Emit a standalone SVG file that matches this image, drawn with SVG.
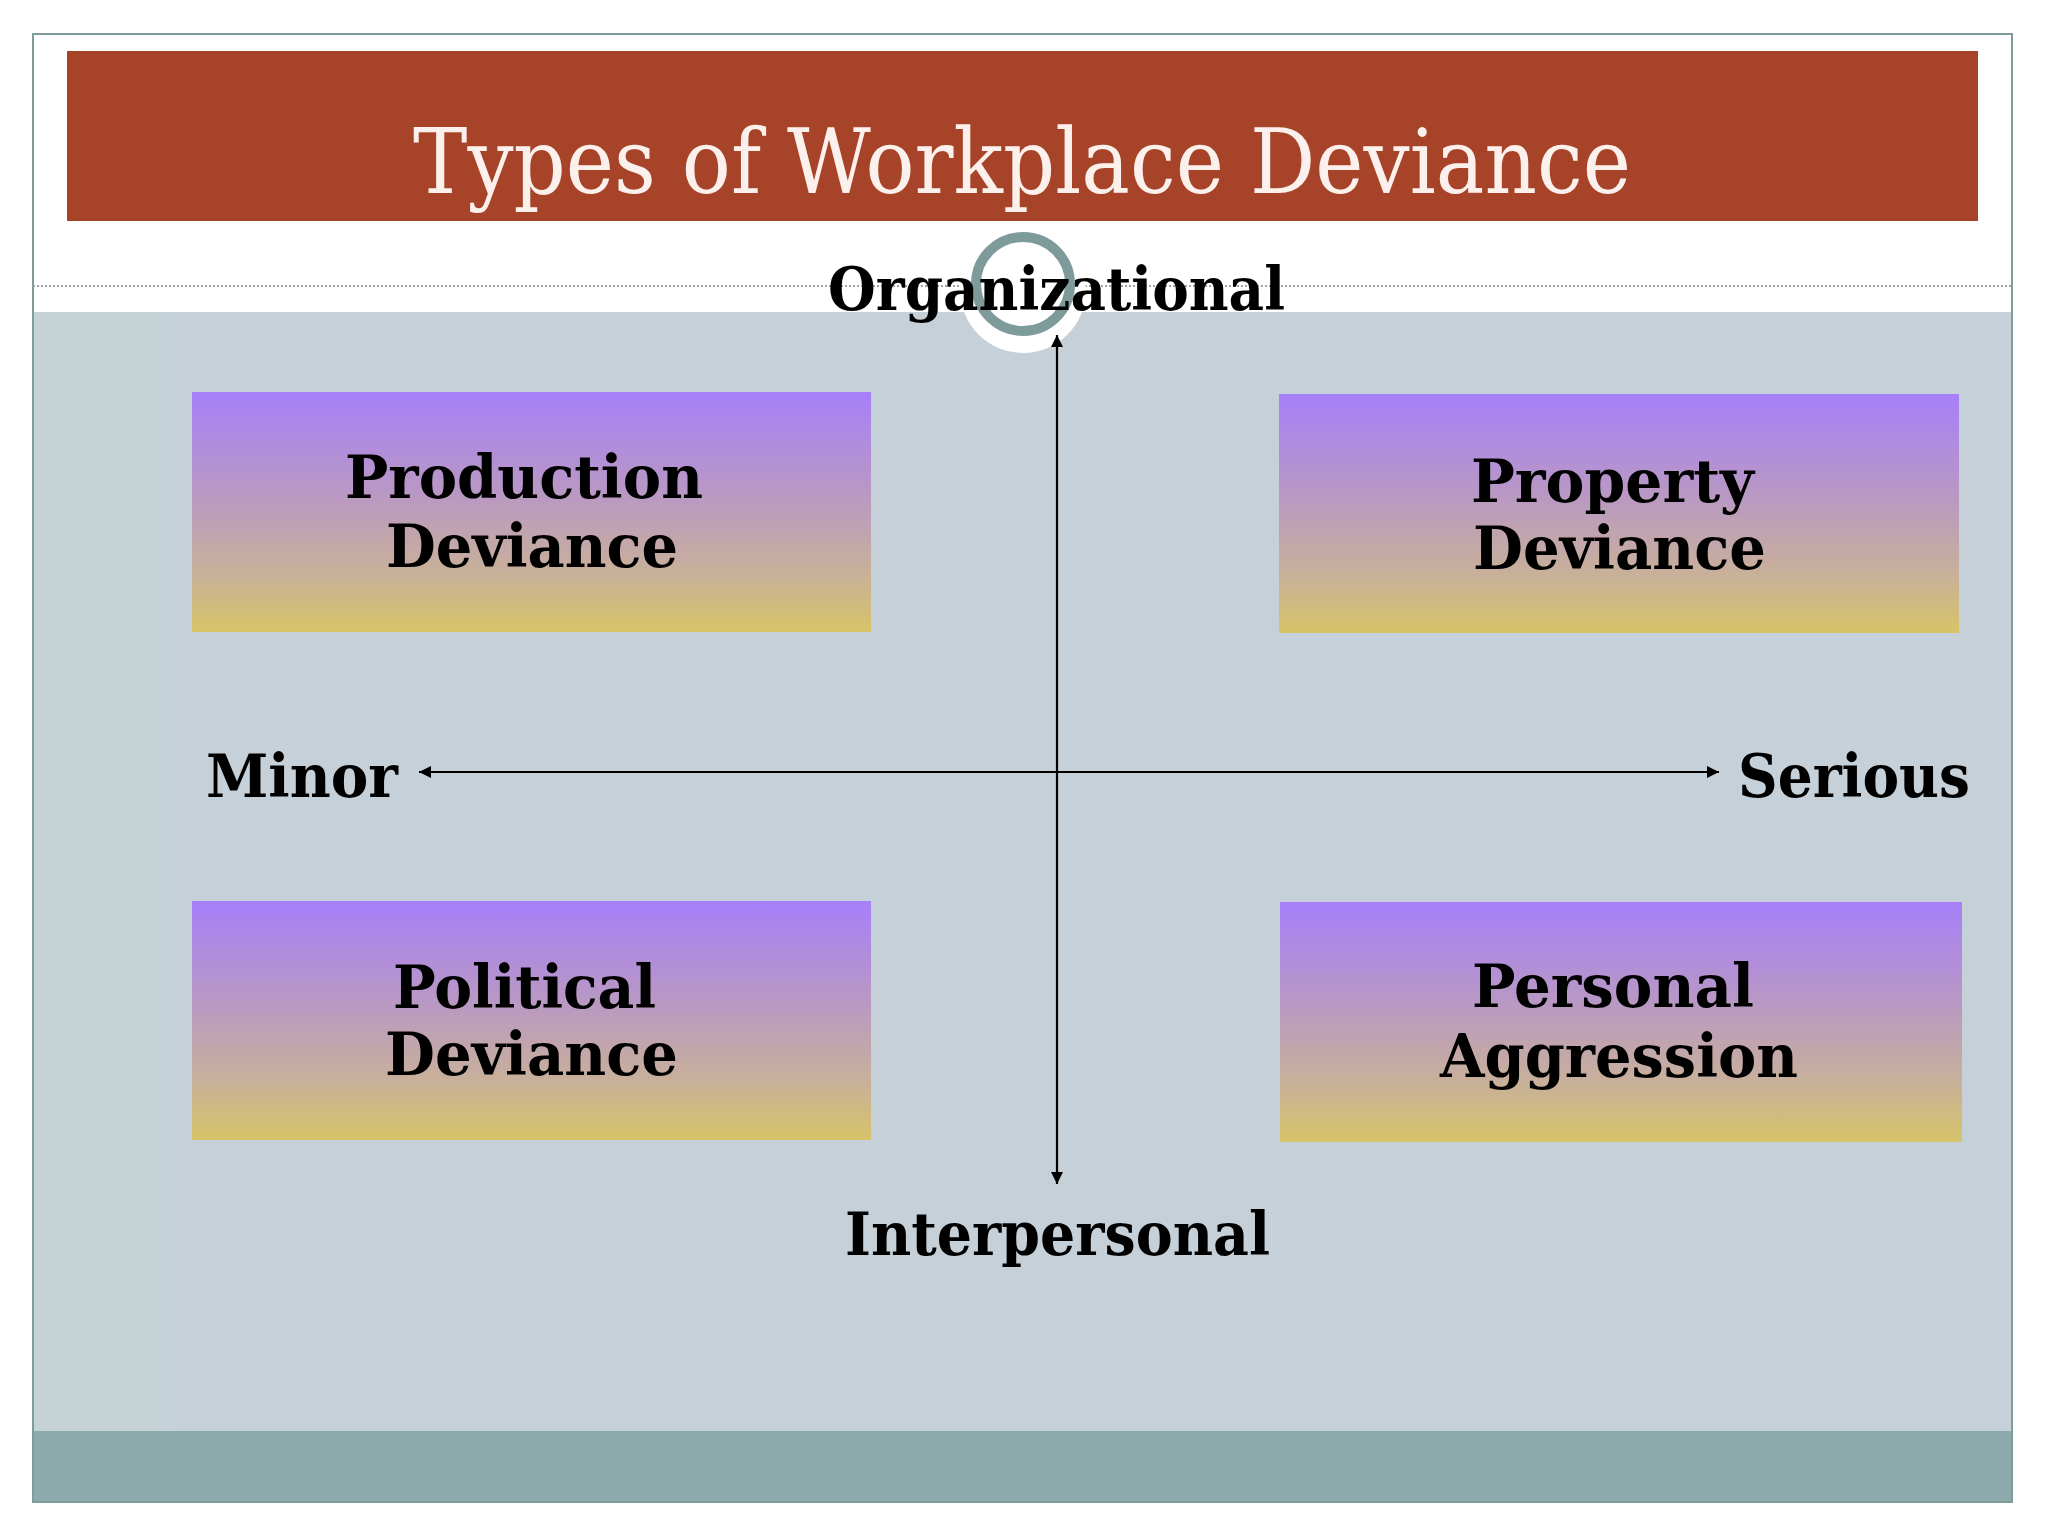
<svg xmlns="http://www.w3.org/2000/svg" width="2048" height="1536" viewBox="0 0 2048 1536">
  <defs>
    <linearGradient id="boxGrad" x1="0" y1="0" x2="0" y2="1">
      <stop offset="0" stop-color="#A77FF9"/>
      <stop offset="0.45" stop-color="#BA9AC0"/>
      <stop offset="0.75" stop-color="#C8B09A"/>
      <stop offset="1" stop-color="#D6C468"/>
    </linearGradient>
    <marker id="arrow" viewBox="0 0 10 10" refX="10" refY="5" markerWidth="13" markerHeight="12" markerUnits="userSpaceOnUse" orient="auto-start-reverse">
      <path d="M0,0 L10,5 L0,10 z" fill="#000"/>
    </marker>
    <style>
      .lbl { font-family: "DejaVu Serif", "Liberation Serif", serif; font-weight: bold; font-size: 59px; fill: #000; }
      .box { fill: url(#boxGrad); }
      .title { font-family: "DejaVu Serif", "Liberation Serif", serif; font-size: 90px; fill: #FBF0EB; }
      .axis { stroke: #000; stroke-width: 2.2; fill: none; }
    </style>
  </defs>

  <rect x="0" y="0" width="2048" height="1536" fill="#FFFFFF"/>

  <!-- slide background -->
  <rect x="33" y="312" width="1979" height="1119" fill="#C5D0D8"/>
  <rect x="33" y="312" width="137" height="1119" fill="#C5D2D6"/>
  <rect x="33" y="1431" width="1979" height="71" fill="#8DAAAC"/>
  <rect x="33" y="34" width="1979" height="1468" fill="none" stroke="#7F9C9C" stroke-width="2"/>
  <line x1="33" y1="286" x2="2012" y2="286" stroke="#9AA6A8" stroke-width="2" stroke-dasharray="2,2"/>

  <!-- title bar -->
  <g id="title">
    <rect x="67" y="51" width="1911" height="170" fill="#A74328"/>
    <text class="title" x="413" y="193" textLength="1218" lengthAdjust="spacingAndGlyphs">Types of Workplace Deviance</text>
  </g>

  <!-- highlight ring -->
  <g id="ring">
    <circle cx="1023" cy="290" r="63" fill="#FFFFFF"/>
    <circle cx="1023" cy="284" r="47" fill="none" stroke="#7E9A9A" stroke-width="10"/>
  </g>

  <!-- connectors -->
  <g id="connectors">
    <line class="axis" x1="1057" y1="772" x2="1057" y2="335" marker-end="url(#arrow)"/>
    <line class="axis" x1="1057" y1="772" x2="1057" y2="1184" marker-end="url(#arrow)"/>
    <line class="axis" x1="1057" y1="772" x2="419" y2="772" marker-end="url(#arrow)"/>
    <line class="axis" x1="1057" y1="772" x2="1719" y2="772" marker-end="url(#arrow)"/>
  </g>

  <!-- axis labels -->
  <g id="label-organizational">
    <text class="lbl" x="828" y="310" textLength="457" lengthAdjust="spacingAndGlyphs">Organizational</text>
  </g>
  <g id="label-interpersonal">
    <text class="lbl" x="845" y="1255" textLength="425" lengthAdjust="spacingAndGlyphs">Interpersonal</text>
  </g>
  <g id="label-minor">
    <text class="lbl" x="206" y="797" textLength="192" lengthAdjust="spacingAndGlyphs">Minor</text>
  </g>
  <g id="label-serious">
    <text class="lbl" x="1738" y="797" textLength="232" lengthAdjust="spacingAndGlyphs">Serious</text>
  </g>

  <!-- quadrant nodes -->
  <g id="production-deviance">
    <rect class="box" x="192" y="392" width="679" height="240"/>
    <text class="lbl" x="345" y="498" textLength="358" lengthAdjust="spacingAndGlyphs">Production</text>
    <text class="lbl" x="386" y="567" textLength="292" lengthAdjust="spacingAndGlyphs">Deviance</text>
  </g>
  <g id="property-deviance">
    <rect class="box" x="1279" y="394" width="680" height="239"/>
    <text class="lbl" x="1471" y="502" textLength="283" lengthAdjust="spacingAndGlyphs">Property</text>
    <text class="lbl" x="1473" y="569" textLength="293" lengthAdjust="spacingAndGlyphs">Deviance</text>
  </g>
  <g id="political-deviance">
    <rect class="box" x="192" y="901" width="679" height="239"/>
    <text class="lbl" x="393" y="1008" textLength="263" lengthAdjust="spacingAndGlyphs">Political</text>
    <text class="lbl" x="385" y="1075" textLength="293" lengthAdjust="spacingAndGlyphs">Deviance</text>
  </g>
  <g id="personal-aggression">
    <rect class="box" x="1280" y="902" width="682" height="240"/>
    <text class="lbl" x="1472" y="1007" textLength="282" lengthAdjust="spacingAndGlyphs">Personal</text>
    <text class="lbl" x="1440" y="1077" textLength="358" lengthAdjust="spacingAndGlyphs">Aggression</text>
  </g>
</svg>
